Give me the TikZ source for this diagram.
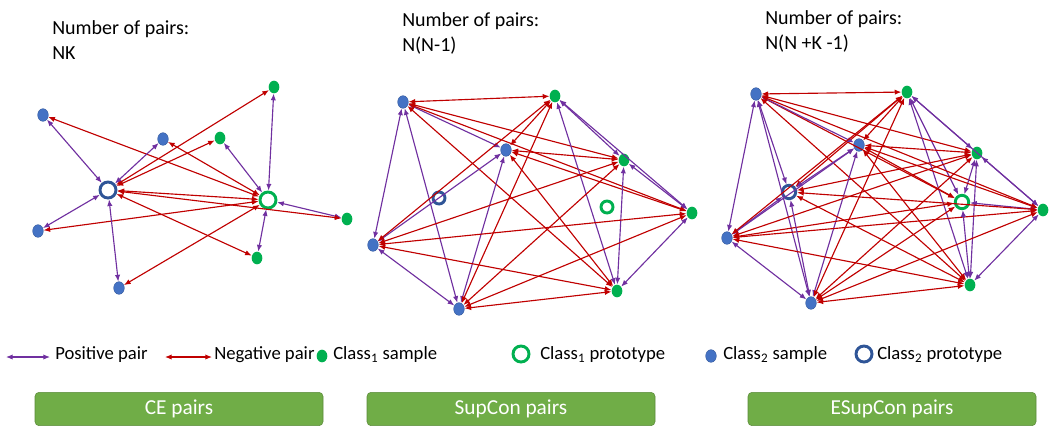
\documentclass[tikz,border=0pt]{standalone}
\usepackage{fontspec}
\setmainfont{Carlito}
\usetikzlibrary{shapes.geometric,arrows.meta}
\definecolor{cb}{HTML}{4472C4}
\definecolor{cg}{HTML}{00B050}
\definecolor{cdb}{HTML}{2F5597}
\definecolor{cr}{HTML}{C00000}
\definecolor{cpur}{HTML}{7030A0}
\definecolor{cbox}{HTML}{70AD47}
\tikzset{
 bdot/.style={ellipse,fill=cb,draw=cb!80!black,line width=0.3pt,minimum width=8pt,minimum height=9.5pt,inner sep=0},
 gdot/.style={ellipse,fill=cg,minimum width=8pt,minimum height=9.5pt,inner sep=0},
 bring/.style={circle,draw=cdb,line width=2.2pt,minimum size=12pt,inner sep=0},
 gring/.style={circle,draw=cg,line width=2.2pt,minimum size=12pt,inner sep=0},
 pospair/.style={cpur,line width=0.85pt,{Latex[length=5pt,width=4pt]}-{Latex[length=5pt,width=4pt]}},
 negpair/.style={cr,line width=0.85pt,{Latex[length=5pt,width=4pt]}-{Latex[length=5pt,width=4pt]}},
 ttl/.style={anchor=north west,font=\fontsize{15}{19}\selectfont,align=left,inner sep=0},
 lbl/.style={anchor=west,font=\fontsize{14}{16}\selectfont,inner sep=0},
 btn/.style={rounded corners=3pt,fill=cbox,draw=cbox!80!black,minimum width=216pt,minimum height=25pt,text=white,font=\fontsize{16}{18}\selectfont}
}
\begin{document}
\begin{tikzpicture}[x=0.75pt,y=-0.75pt]
\useasboundingbox (0,0) rectangle (1058,436);
% titles
\node[ttl] (t1) at (52,20) {Number of pairs:\\NK};
\node[ttl] (t2) at (402,12) {Number of pairs:\\N(N-1)};
\node[ttl] (t3) at (765,10) {Number of pairs:\\N(N +K -1)};
% panel 1
\node[bdot] (a1) at (43,115) {};
\node[bdot] (a2) at (163,139) {};
\node[bdot] (a3) at (38,231) {};
\node[bdot] (a4) at (119,288) {};
\node[bring] (ap) at (108,190) {};
\node[gdot] (g1) at (274,87) {};
\node[gdot] (g2) at (220,138) {};
\node[gdot] (g3) at (347,219) {};
\node[gdot] (g4) at (257,258) {};
\node[gring] (gp) at (268,200) {};
\foreach \i in {1,...,4}{
 \draw[pospair] (a\i) -- (ap); \draw[pospair] (g\i) -- (gp);
 \draw[negpair] (ap) -- (g\i); \draw[negpair] (gp) -- (a\i);}
\draw[negpair] (ap) -- (gp);
% panel 2
\node[bdot] (c1) at (403,102) {};
\node[bdot] (c2) at (506,150) {};
\node[bdot] (c3) at (373,245) {};
\node[bdot] (c4) at (459,309) {};
\node[bring,minimum size=9pt] (cproto) at (439,198) {};
\node[gdot] (d1) at (555,96) {};
\node[gdot] (d2) at (624,160) {};
\node[gdot] (d3) at (692,213) {};
\node[gdot] (d4) at (617,291) {};
\node[gring,minimum size=9pt] (dproto) at (607,207) {};
\foreach \i in {1,...,4}{\foreach \j in {1,...,4}{
 \ifnum\i<\j \draw[pospair] (c\i) -- (c\j); \draw[pospair] (d\i) -- (d\j); \fi
 \draw[negpair] (c\i) -- (d\j);}}
% panel 3
\node[bdot] (e1) at (756,94) {};
\node[bdot] (e2) at (859,145) {};
\node[bdot] (e3) at (727,238) {};
\node[bdot] (e4) at (811,303) {};
\node[bring,minimum size=10pt] (ep) at (789,192) {};
\node[gdot] (f1) at (907,92) {};
\node[gdot] (f2) at (977,153) {};
\node[gdot] (f3) at (1043,210) {};
\node[gdot] (f4) at (970,285) {};
\node[gring,minimum size=10pt] (fp) at (962,202) {};
\foreach \i in {1,...,4}{
 \draw[pospair] (e\i) -- (ep); \draw[pospair] (f\i) -- (fp);
 \draw[negpair] (e\i) -- (fp); \draw[negpair] (f\i) -- (ep);
 \foreach \j in {1,...,4}{
 \ifnum\i<\j \draw[pospair] (e\i) -- (e\j); \draw[pospair] (f\i) -- (f\j); \fi
 \draw[negpair] (e\i) -- (f\j);}}
% legend
\coordinate (l1a) at (6,357); \coordinate (l1b) at (50,357);
\draw[pospair] (l1a) -- (l1b);
\node[lbl] (lt1) at (55,355) {Positive pair};
\coordinate (l2a) at (165,357); \coordinate (l2b) at (212,357);
\draw[negpair] (l2a) -- (l2b);
\node[lbl] (lt2) at (214,355) {Negative pair};
\node[gdot] (lg) at (322,356) {};
\node[lbl] (lt3) at (333,355) {Class\textsubscript{1} sample};
\node[gring] (lgr) at (521,354) {};
\node[lbl] (lt4) at (540,355) {Class\textsubscript{1} prototype};
\node[bdot] (lb) at (711,356) {};
\node[lbl] (lt5) at (723,355) {Class\textsubscript{2} sample};
\node[bring] (lbr) at (864,354) {};
\node[lbl] (lt6) at (877,355) {Class\textsubscript{2} prototype};
% buttons
\node[btn] (bx1) at (179,409) {CE pairs};
\node[btn] (bx2) at (511,409) {SupCon pairs};
\node[btn] (bx3) at (892,409) {ESupCon pairs};
\end{tikzpicture}
\end{document}
